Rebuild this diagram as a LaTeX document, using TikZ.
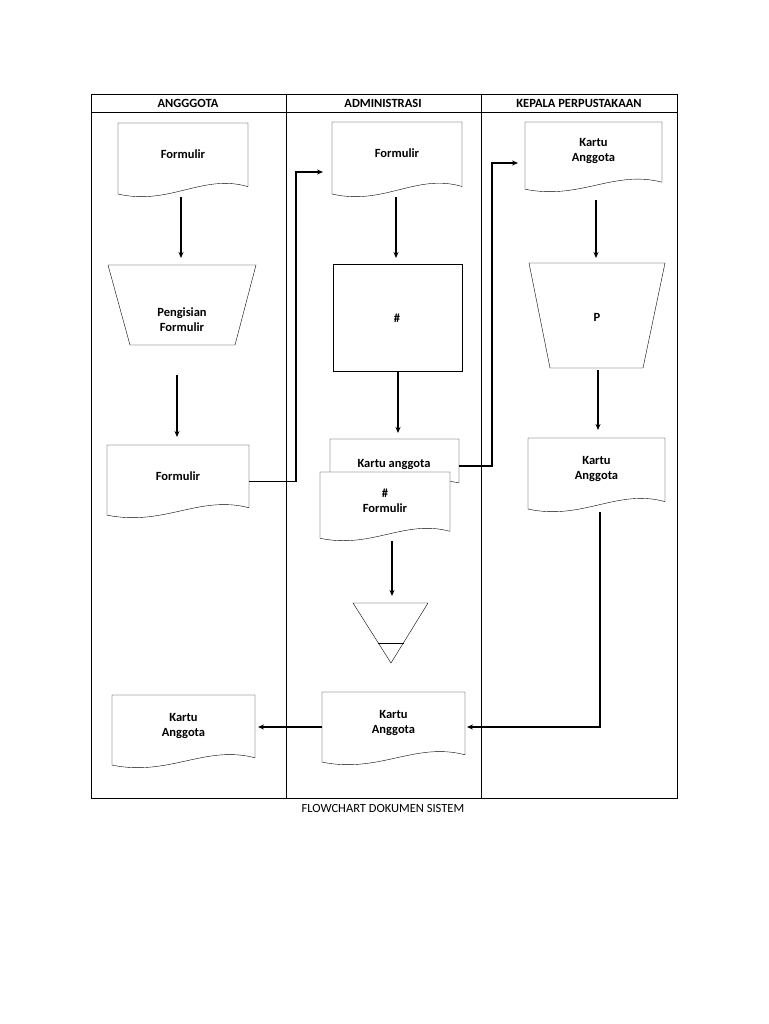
\documentclass[tikz,border=0pt]{standalone}
\usepackage{fontspec}
\setmainfont{Carlito}
\usetikzlibrary{arrows.meta}
\newcommand\mydoc[6]{% name, x1,y1,x2,y2, text
  \draw[fill=white] (#2,#3) -- (#4,#3) -- (#4,{#5-0.14*(#5-#3)})
    .. controls ({#4-0.35*(#4-#2)},{#5-0.32*(#5-#3)}) and ({#2+0.4*(#4-#2)},{#5+0.12*(#5-#3)}) .. (#2,{#5-0.04*(#5-#3)}) -- cycle;
  \node[bt, align=center, inner sep=0pt] (#1) at ({(#2+#4)/2},{#3+(#5-#3)*0.42}) {#6};
  \coordinate (#1-e) at (#4,{(#3+#5)/2});
}
\begin{document}
\begin{tikzpicture}[x=1pt,y=-1pt, font=\fontsize{12.5}{15}\selectfont,
  bt/.style={font=\bfseries\fontsize{12.5}{15}\selectfont},
  arr/.style={-{Stealth[length=6pt,width=5pt]}, line width=1.2pt}]
\useasboundingbox (0,0) rectangle (768,1024);
\fill[white] (0,0) rectangle (768,1024);
% table
\draw (91,94) rectangle (677,798);
\draw (91,112) -- (677,112);
\draw (286,94) -- (286,798);
\draw (481,94) -- (481,798);
\node[bt] (h1) at (188,103) {ANGGGOTA};
\node[bt] (h2) at (383,103) {ADMINISTRASI};
\node[bt] (h3) at (579,103) {KEPALA PERPUSTAKAAN};
\node (cap) at (383,808) {FLOWCHART DOKUMEN SISTEM};
% column 1
\mydoc{a1}{118}{123}{248}{197}{Formulir}
\draw (108,265) -- (256,265) -- (235,345) -- (130,345) -- cycle;
\node[bt, align=center] (a2) at (182,320) {Pengisian\\Formulir};
\coordinate (a2n) at (181,258); \coordinate (a2s) at (177,375);
\mydoc{a3}{107}{445}{249}{518}{Formulir}
\mydoc{a4}{112}{695}{255}{768}{Kartu\\Anggota}
% column 2
\mydoc{b1}{332}{122}{462}{197}{Formulir}
\draw (333,264) rectangle (462,371);
\node[bt] (b2) at (397,318) {\#};
\mydoc{b3}{330}{439}{459}{490}{}
\node[bt] (b3t) at (394,465) {Kartu anggota};
\mydoc{b4}{320}{472}{450}{541}{\#\\Formulir}
\draw (353,603) -- (428,603) -- (391,663) -- cycle;
\draw (378,643) -- (404,643);
\coordinate (b5) at (392,596);
\mydoc{b6}{322}{692}{465}{765}{Kartu\\Anggota}
% column 3
\mydoc{c1}{525}{122}{662}{192}{Kartu\\Anggota}
\draw (529,263) -- (665,263) -- (643,368) -- (550,368) -- cycle;
\node[bt] (c2) at (597,317) {P};
\mydoc{c3}{528}{438}{665}{512}{Kartu\\Anggota}
% arrows
\draw[arr] (181,197) -- (a2n);
\draw[arr] (a2s) -- (177,437);
\draw[arr] (a3-e) -- (296,481.5) -- (296,172) -- (323,172);
\draw[arr] (396,197) -- (396,258);
\draw[arr] (398,371) -- (398,433);
\draw[arr] (459,466) -- (492,466) -- (492,163) -- (518,163);
\draw[arr] (392,541) -- (b5);
\draw[arr] (596,200) -- (596,258);
\draw[arr] (598,370) -- (598,430);
\draw[arr] (600,512) -- (600,727) -- (467,727);
\draw[arr] (322,727) -- (258,727);
\end{tikzpicture}
\end{document}
